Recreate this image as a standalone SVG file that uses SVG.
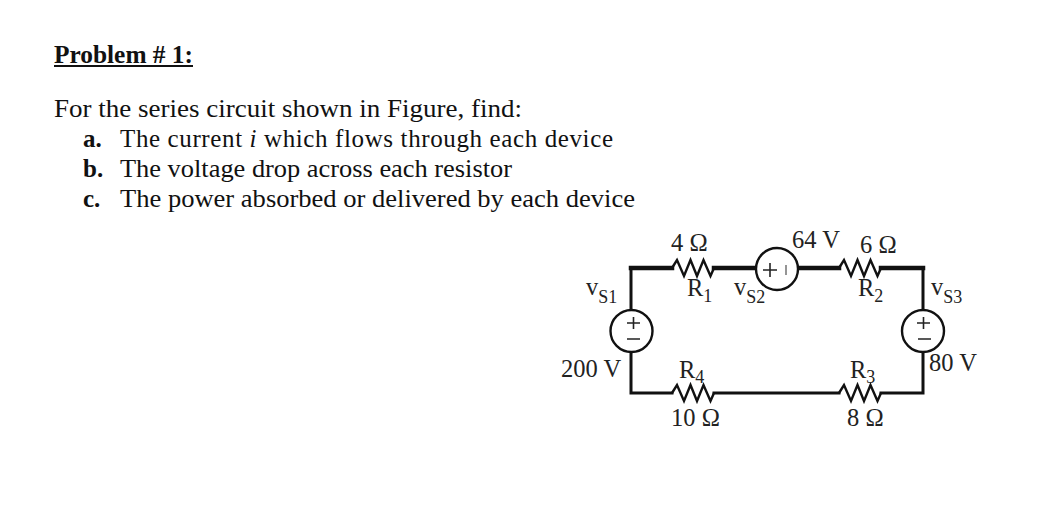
<svg xmlns="http://www.w3.org/2000/svg" width="1037" height="521" viewBox="0 0 1037 521">
<style>
.t{font-family:"Liberation Serif","Times New Roman",serif;font-size:25px;fill:#111}
.b{font-weight:bold}
.c{font-family:"Liberation Serif","Times New Roman",serif;font-size:24.500px;fill:#222}
.s{font-size:18px}
.w{fill:none;stroke:#111;stroke-width:3;stroke-linejoin:miter;stroke-linecap:square}
.h{stroke-width:4.500}
.r{fill:none;stroke:#111;stroke-width:2.400;stroke-linejoin:miter}
.src{fill:#fff;stroke:#111;stroke-width:2.400}
.sym{fill:none;stroke:#222;stroke-width:1.600}
</style>
<defs><path id="zig" class="r" d="M0 0L5 -8L12 8L18.500 -8L25 8L31.500 -8L38.500 8L42 0"/></defs>
<rect width="1037" height="521" fill="#fff"/>
<g id="text">
<text class="t b" x="54" y="63" textLength="139" lengthAdjust="spacingAndGlyphs">Problem # 1:</text>
<rect x="54" y="65" width="139" height="2" fill="#111"/>
<text class="t" x="54" y="117" textLength="468" lengthAdjust="spacingAndGlyphs">For the series circuit shown in Figure, find:</text>
<text class="t b" x="83" y="147">a.</text>
<text class="t" x="120" y="147" textLength="493" lengthAdjust="spacing">The current <tspan font-style="italic">i</tspan> which flows through each device</text>
<text class="t b" x="83" y="177">b.</text>
<text class="t" x="120" y="177" textLength="392" lengthAdjust="spacingAndGlyphs">The voltage drop across each resistor</text>
<text class="t b" x="83" y="207">c.</text>
<text class="t" x="120" y="207" textLength="515" lengthAdjust="spacingAndGlyphs">The power absorbed or delivered by each device</text>
</g>
<g id="connectors">
<path class="w" d="M631 310V268"/>
<path class="w h" d="M631 268H672M714 268H757M798 268H839M881 268H923"/>
<path class="w" d="M923 268V310M923 352V393H881M839 393H714M672 393H631V352"/>
</g>
<g id="R1"><use href="#zig" x="672" y="268"/></g>
<g id="R2"><use href="#zig" x="839" y="268"/></g>
<g id="R3"><use href="#zig" x="839" y="393"/></g>
<g id="R4"><use href="#zig" x="672" y="393"/></g>
<g id="VS1"><circle class="src" cx="631.500" cy="331" r="21"/><path class="sym" d="M627 323h13M633.500 317v12M627 339h13"/></g>
<g id="VS2"><circle class="src" cx="777" cy="269" r="21"/><path class="sym" d="M763 270h14M770 263v14"/><path class="sym" stroke-opacity=".6" d="M786 265v10"/></g>
<g id="VS3"><circle class="src" cx="923" cy="331" r="21"/><path class="sym" d="M917 323h13M923.500 317v12M918 339h13"/></g>
<g id="labels">
<text class="c" x="671" y="251">4 Ω</text>
<text class="c" x="671" y="426">10 Ω</text>
<text class="c" x="847" y="426">8 Ω</text>
<text class="c" x="860" y="253">6 Ω</text>
<text class="c" x="792" y="248">64 V</text>
<text class="c" x="561" y="377">200 V</text>
<text class="c" x="929" y="371">80 V</text>
<text class="c" x="687" y="296">R<tspan class="s" dy="6">1</tspan></text>
<text class="c" x="858" y="296">R<tspan class="s" dy="6">2</tspan></text>
<text class="c" x="850" y="378">R<tspan class="s" dy="5">3</tspan></text>
<text class="c" x="679" y="378">R<tspan class="s" dy="5">4</tspan></text>
<text class="c" x="586" y="295">v<tspan class="s" dy="8">S1</tspan></text>
<text class="c" x="734" y="295">v<tspan class="s" dy="8">S2</tspan></text>
<text class="c" x="931" y="295">v<tspan class="s" dy="8">S3</tspan></text>
</g>
</svg>
